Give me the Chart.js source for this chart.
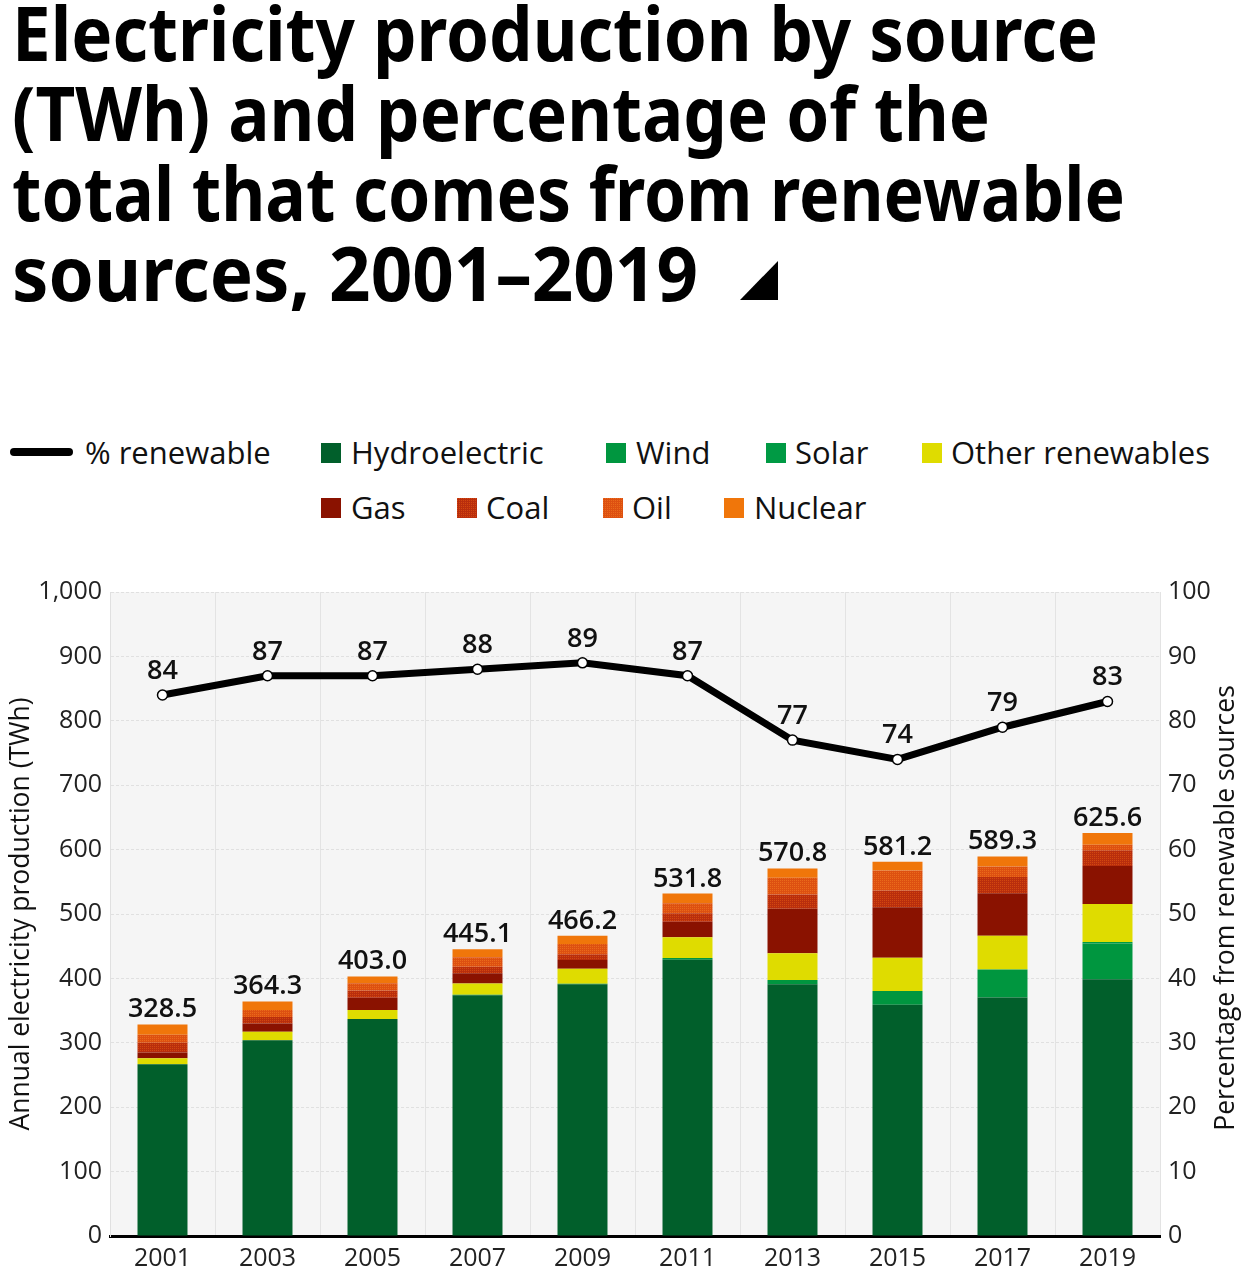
<!DOCTYPE html>
<html>
<head>
<meta charset="utf-8">
<script src="https://cdn.jsdelivr.net/npm/chart.js@4"></script>
<style>
  html, body { margin: 0; padding: 0; background: #fff; }
  body { width: 1247px; height: 1280px; position: relative; overflow: hidden; font-family: "Open Sans", sans-serif; color: #111; }
  #title { position: absolute; left: 12px; top: -8px; font-family: "Noto Sans", sans-serif; font-weight: 700; font-size: 76px; line-height: 80px; color: #000; white-space: nowrap; }
  #title .row { display: block; height: 80px; }
  #title .ln { display: inline-block; transform-origin: 0 50%; }
  #tri { position: absolute; left: 740px; top: 261px; width: 0; height: 0; border-left: 38px solid transparent; border-bottom: 39px solid #000; }
  .lg { position: absolute; font-size: 31px; line-height: 36px; color: #111; white-space: nowrap; }
  .sw { position: absolute; width: 20px; height: 20px; }
  #chartwrap { position: absolute; left: 0; top: 560px; width: 1247px; height: 720px; }
</style>
</head>
<body>
<div id="title">
  <div class="row"><span class="ln" data-w="1086">Electricity production by source</span></div>
  <div class="row"><span class="ln" data-w="978">(TWh) and percentage of the</span></div>
  <div class="row"><span class="ln" data-w="1113">total that comes from renewable</span></div>
  <div class="row"><span class="ln" data-w="686">sources, 2001–2019</span></div>
</div>
<div id="tri"></div>
<div id="legend"></div>
<div id="chartwrap"><canvas id="c" width="1247" height="720"></canvas></div>
<script>
// ---- DATA ----
const years = ['2001','2003','2005','2007','2009','2011','2013','2015','2017','2019'];
const hydro   = [266.5, 304.0, 337.0, 374.0, 391.0, 429.0, 391.0, 359.0, 370.5, 398.5];
const wind    = [0.1, 0.1, 0.1, 0.5, 0.5, 2.5, 6.5, 21.5, 42.5, 55.5];
const solar   = [0.0, 0.0, 0.0, 0.0, 0.0, 0.0, 0.1, 0.1, 0.8, 2.5];
const otherRen= [9.5, 13.0, 14.0, 17.5, 23.5, 32.5, 41.5, 51.5, 52.5, 59.0];
const gas     = [9.0, 13.0, 19.0, 16.0, 13.6, 24.0, 69.0, 78.5, 66.0, 59.0];
const coal    = [15.0, 10.0, 11.0, 10.0, 9.0, 13.0, 22.0, 26.0, 25.0, 24.5];
const oil     = [12.5, 11.0, 11.3, 15.0, 16.0, 15.5, 26.0, 31.0, 16.5, 8.5];
const nuclear = [15.9, 13.2, 10.6, 12.1, 12.6, 15.3, 14.7, 13.6, 15.5, 18.1];
const pctRenewable = [84, 87, 87, 88, 89, 87, 77, 74, 79, 83];
const leftTicks = { min: 0, max: 1000, step: 100 };
const rightTicks = { min: 0, max: 100, step: 10 };

// ---- title fitting ----
function fitTitle() {
  document.querySelectorAll('#title .ln').forEach(l => {
    l.style.transform = 'none';
    const w = l.getBoundingClientRect().width;
    const s = Number(l.dataset.w) / w;
    l.style.transform = 'scaleX(' + s + ')';
  });
}
fitTitle();
if (document.fonts && document.fonts.ready) document.fonts.ready.then(fitTitle);

// ---- patterns ----
function makePattern(c1, c2) {
  const cv = document.createElement('canvas');
  cv.width = 4; cv.height = 4;
  const x = cv.getContext('2d');
  x.fillStyle = c1; x.fillRect(0, 0, 4, 4);
  x.fillStyle = c2;
  x.fillRect(0, 0, 1, 1); x.fillRect(2, 2, 1, 1); x.fillRect(2, 0, 1, 1); x.fillRect(0, 2, 1, 1);
  return { pat: document.getElementById('c').getContext('2d').createPattern(cv, 'repeat'), url: cv.toDataURL() };
}
const coalPat = makePattern('#b92e0d', '#d2470f');
const oilPat = makePattern('#dd5011', '#ea6a1a');

const colors = {
  hydro: '#015f2b', wind: '#00963f', solar: '#009a44', other: '#dfdc00',
  gas: '#8a1200', coal: coalPat.pat, oil: oilPat.pat, nuclear: '#f0760a'
};

// ---- legend (HTML) ----
const legendItems = [
  { t: '% renewable', line: true, x: 10, y: 453, tx: 85 },
  { t: 'Hydroelectric', c: '#015f2b', x: 321, y: 453, tx: 351 },
  { t: 'Wind', c: '#00963f', x: 606, y: 453, tx: 636 },
  { t: 'Solar', c: '#009a44', x: 766, y: 453, tx: 795 },
  { t: 'Other renewables', c: '#dfdc00', x: 922, y: 453, tx: 951 },
  { t: 'Gas', c: '#8a1200', x: 321, y: 508, tx: 351 },
  { t: 'Coal', img: coalPat.url, x: 457, y: 508, tx: 486 },
  { t: 'Oil', img: oilPat.url, x: 603, y: 508, tx: 632 },
  { t: 'Nuclear', c: '#f0760a', x: 724, y: 508, tx: 754 }
];
const lgRoot = document.getElementById('legend');
legendItems.forEach(it => {
  const sw = document.createElement('div');
  sw.className = 'sw';
  if (it.line) {
    sw.style.cssText = 'left:' + it.x + 'px;top:' + (it.y - 5) + 'px;width:63px;height:8px;background:#000;border-radius:4px;';
  } else {
    sw.style.left = it.x + 'px'; sw.style.top = (it.y - 10) + 'px';
    if (it.img) sw.style.backgroundImage = 'url(' + it.img + ')'; else sw.style.background = it.c;
  }
  lgRoot.appendChild(sw);
  const tx = document.createElement('div');
  tx.className = 'lg';
  tx.textContent = it.t;
  tx.style.left = it.tx + 'px'; tx.style.top = (it.y - 19) + 'px';
  lgRoot.appendChild(tx);
});

// ---- plugins ----
const bgPlugin = {
  id: 'bg',
  beforeDraw(chart) {
    const a = chart.chartArea, ctx = chart.ctx;
    ctx.save(); ctx.fillStyle = '#f5f5f5';
    ctx.fillRect(a.left, a.top, a.right - a.left, a.bottom - a.top);
    ctx.restore();
  }
};
const labelPlugin = {
  id: 'labels',
  afterDatasetsDraw(chart) {
    const ctx = chart.ctx;
    ctx.save();
    ctx.fillStyle = '#111';
    ctx.textAlign = 'center';
    ctx.textBaseline = 'alphabetic';
    ctx.font = '600 27px "Open Sans", sans-serif';
    const stacks = [hydro, wind, solar, otherRen, gas, coal, oil, nuclear];
    const ys = chart.scales.y;
    const lastBarMeta = chart.getDatasetMeta(chart.data.datasets.length - 1);
    years.forEach((yr, i) => {
      const total = stacks.reduce((s, arr) => s + arr[i], 0);
      const x = lastBarMeta.data[i].x;
      ctx.fillText(total.toFixed(1), x, ys.getPixelForValue(total) - 7);
    });
    const lm = chart.getDatasetMeta(0);
    pctRenewable.forEach((v, i) => {
      const p = lm.data[i];
      ctx.fillText(String(v), p.x, p.y - 16);
    });
    // right axis title
    const r = chart.scales.y2;
    ctx.font = '500 26.5px "Open Sans", sans-serif';
    ctx.translate(1226, 908 - 560);
    ctx.rotate(-Math.PI / 2);
    ctx.textBaseline = 'middle';
    ctx.fillText('Percentage from renewable sources', 0, 0);
    ctx.restore();
  }
};

function barDs(label, data, color) {
  return { type: 'bar', label, data, backgroundColor: color, yAxisID: 'y', stack: 's',
    borderWidth: 0, barPercentage: 1.0, categoryPercentage: 0.476, order: 2 };
}

new Chart(document.getElementById('c'), {
  type: 'bar',
  data: {
    labels: years,
    datasets: [
      { type: 'line', label: '% renewable', data: pctRenewable, yAxisID: 'y2', borderColor: '#000',
        borderWidth: 7, pointRadius: 5, pointBackgroundColor: '#fff', pointBorderColor: '#000',
        pointBorderWidth: 1.5, tension: 0, order: 0 },
      barDs('Hydroelectric', hydro, colors.hydro),
      barDs('Wind', wind, colors.wind),
      barDs('Solar', solar, colors.solar),
      barDs('Other renewables', otherRen, colors.other),
      barDs('Gas', gas, colors.gas),
      barDs('Coal', coal, colors.coal),
      barDs('Oil', oil, colors.oil),
      barDs('Nuclear', nuclear, colors.nuclear)
    ]
  },
  options: {
    responsive: false,
    animation: false,
    layout: { padding: { top: 32, left: 0, right: 0, bottom: 0 } },
    plugins: { legend: { display: false }, tooltip: { enabled: false } },
    scales: {
      x: {
        stacked: true,
        grid: { color: '#e3e3e3', offset: true, drawTicks: false },
        border: { color: '#000', width: 3 },
        ticks: { color: '#222', font: { size: 25, family: '"Open Sans", sans-serif' }, padding: 8 },
        afterFit(s) { s.height = 44; }
      },
      y: {
        stacked: true,
        position: 'left',
        min: leftTicks.min, max: leftTicks.max,
        grid: { color: '#e0e0e0', drawTicks: false },
        border: { color: '#e0e0e0', width: 1, dash: [3, 2] },
        ticks: { stepSize: leftTicks.step, color: '#222', padding: 8,
          font: { size: 25, family: '"Open Sans", sans-serif' },
          callback: v => Number(v).toLocaleString('en-US') },
        title: { display: true, text: 'Annual electricity production (TWh)', color: '#111',
          font: { size: 26.5, weight: '500', family: '"Open Sans", sans-serif' }, padding: { top: 6, bottom: 0 } },
        afterFit(s) { s.width = 110; }
      },
      y2: {
        position: 'right',
        min: rightTicks.min, max: rightTicks.max,
        grid: { display: false, drawTicks: false },
        border: { display: false },
        ticks: { stepSize: rightTicks.step, color: '#222', padding: 8,
          font: { size: 25, family: '"Open Sans", sans-serif' } },
        afterFit(s) { s.width = 87; }
      }
    }
  },
  plugins: [bgPlugin, labelPlugin]
});
</script>
</body>
</html>
